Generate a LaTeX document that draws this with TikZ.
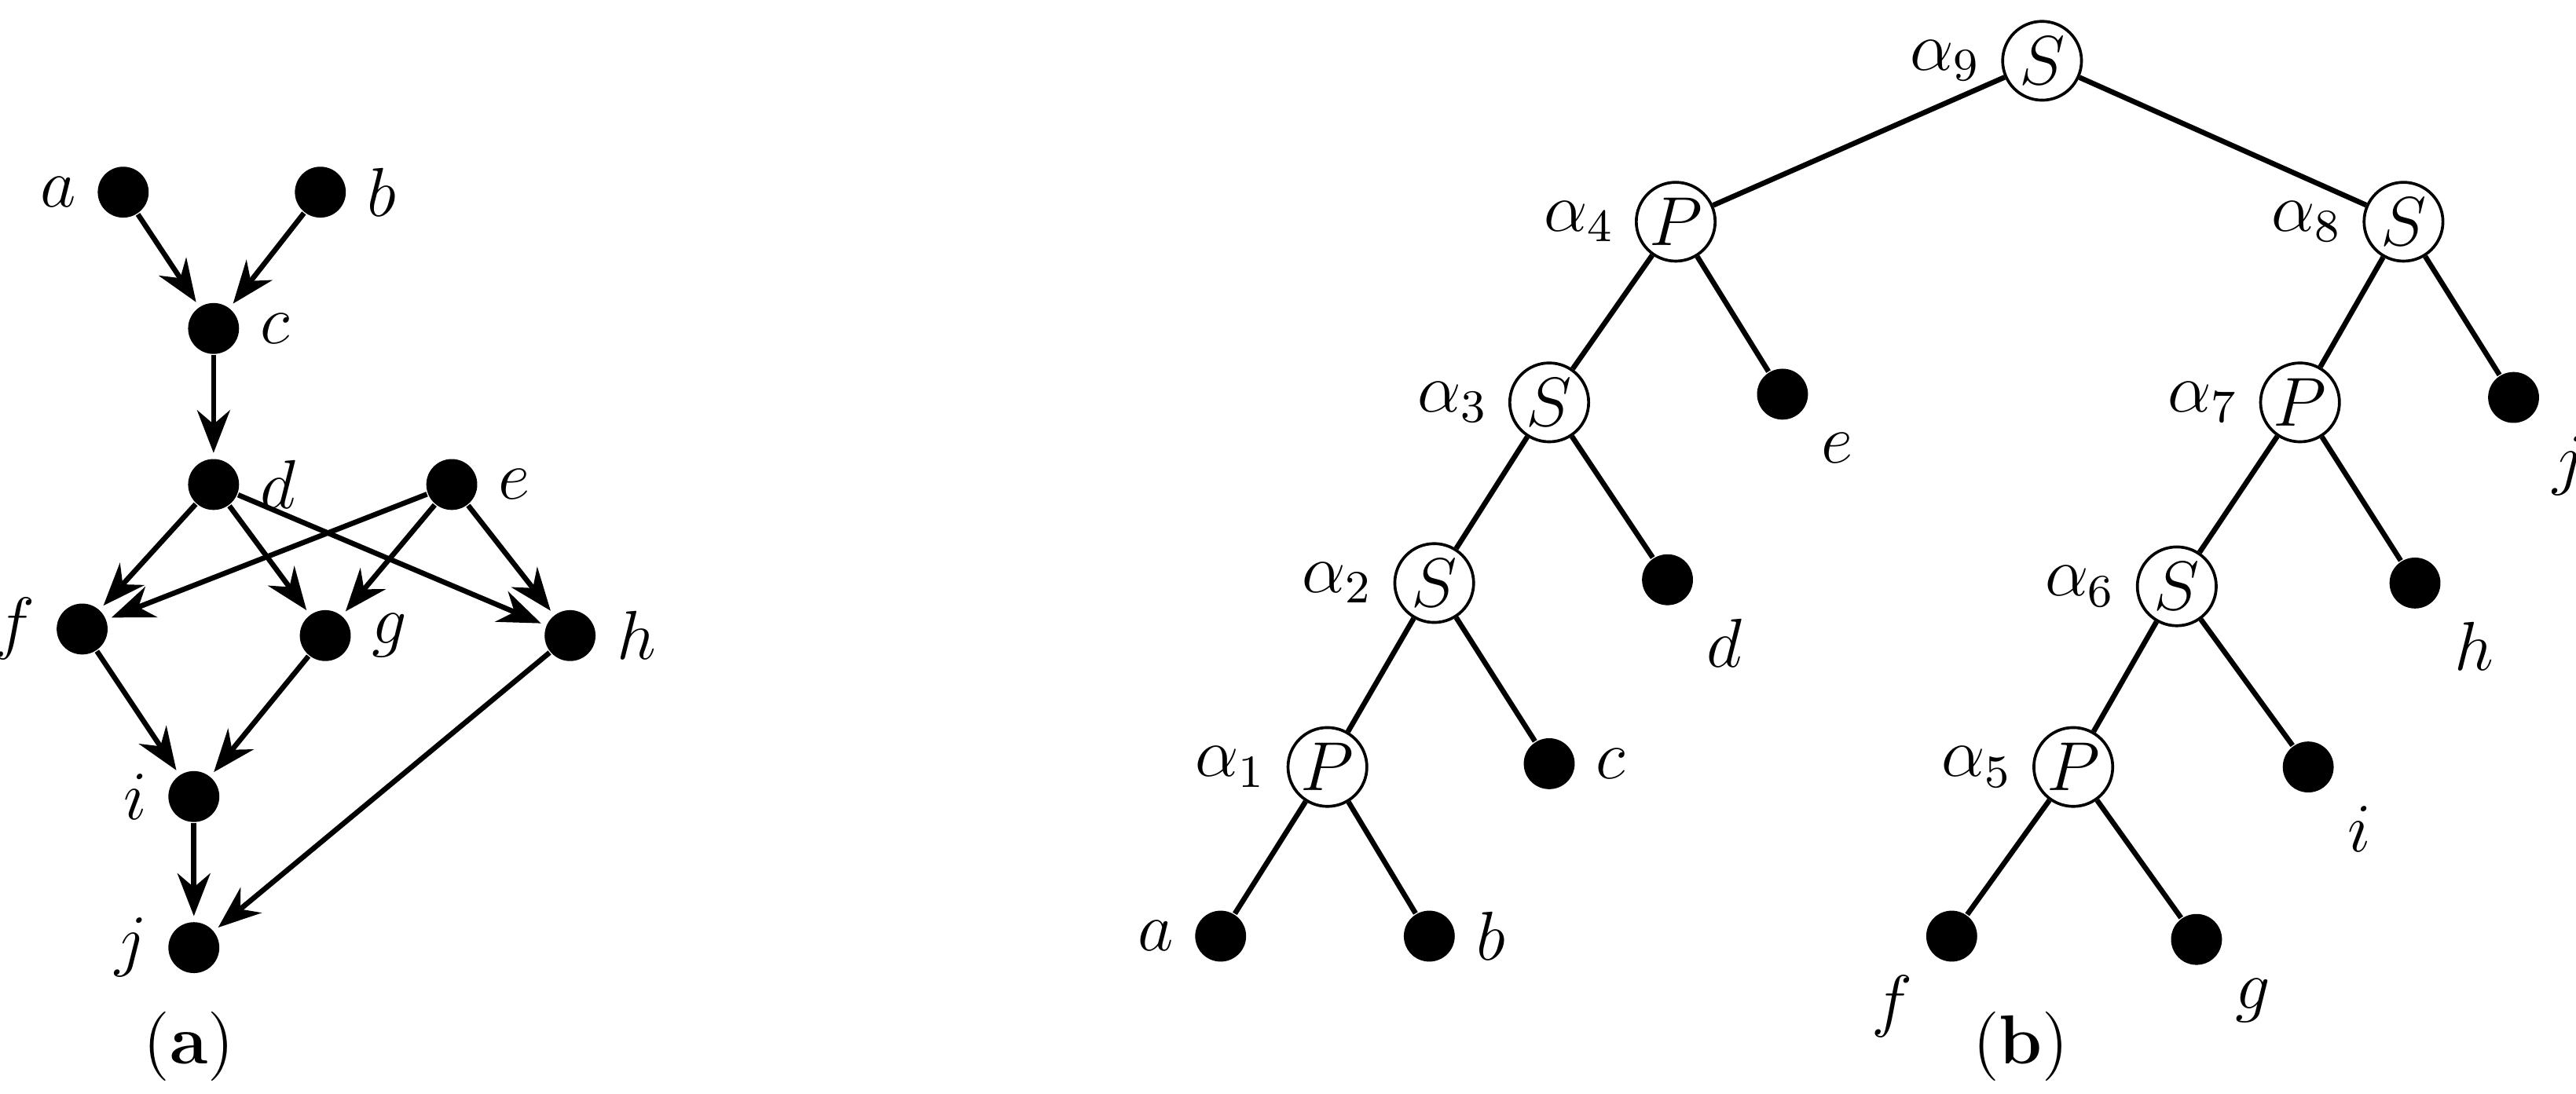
\documentclass[tikz,border=0pt]{standalone}
\usetikzlibrary{arrows.meta}
\begin{document}
\begin{tikzpicture}[x=0.1mm,y=-0.1mm,
  dot/.style={circle,fill=black,minimum size=3.1mm,inner sep=0pt},
  op/.style={circle,draw,line width=0.5pt,minimum size=4.8mm,inner sep=0pt,font=\large},
  arr/.style={-{Stealth[length=2.6mm,width=2mm]},line width=0.9pt,shorten >=0.3mm},
  ed/.style={line width=0.9pt},
  lab/.style={font=\large}]
\useasboundingbox (0,0) rectangle (1568,666);
% (a)
\node[dot,label={[lab]left:$a$}] (a) at (75,117) {};
\node[dot,label={[lab]right:$b$}] (b) at (195,117) {};
\node[dot,label={[lab]right:$c$}] (c) at (130,200) {};
\node[dot,label={[lab]right:$d$}] (d) at (130,295) {};
\node[dot,label={[lab]right:$e$}] (e) at (275,295) {};
\node[dot,label={[lab]left:$f$}] (f) at (50,383) {};
\node[dot,label={[lab]right:$g$}] (g) at (198,387) {};
\node[dot,label={[lab]right:$h$}] (h) at (347,387) {};
\node[dot,label={[lab]left:$i$}] (i) at (118,485) {};
\node[dot,label={[lab]left:$j$}] (j) at (118,577) {};
\foreach \s/\t in {a/c,b/c,c/d,d/f,d/g,d/h,e/f,e/g,e/h,f/i,g/i,i/j,h/j}
  \draw[arr] (\s) -- (\t);
\node[font=\large] (la) at (115,637) {(\textbf{a})};
% (b)
\node[op,label={[lab]left:$\alpha_9$}] (s9) at (1243,37) {$S$};
\node[op,label={[lab]left:$\alpha_4$}] (s4) at (1020,135) {$P$};
\node[op,label={[lab]left:$\alpha_8$}] (s8) at (1463,135) {$S$};
\node[op,label={[lab]left:$\alpha_3$}] (s3) at (943,245) {$S$};
\node[op,label={[lab]left:$\alpha_7$}] (s7) at (1400,245) {$P$};
\node[op,label={[lab]left:$\alpha_2$}] (s2) at (873,355) {$S$};
\node[op,label={[lab]left:$\alpha_6$}] (s6) at (1325,357) {$S$};
\node[op,label={[lab]left:$\alpha_1$}] (s1) at (808,467) {$P$};
\node[op,label={[lab]left:$\alpha_5$}] (s5) at (1262,467) {$P$};
\node[dot,label={[lab]below right:$e$}] (te) at (1085,240) {};
\node[dot,label={[lab]below right:$j$}] (tj) at (1530,242) {};
\node[dot,label={[lab]below right:$d$}] (td) at (1015,353) {};
\node[dot,label={[lab]below right:$h$}] (th) at (1470,355) {};
\node[dot,label={[lab]right:$c$}] (tc) at (943,465) {};
\node[dot,label={[lab]below right:$i$}] (ti) at (1405,467) {};
\node[dot,label={[lab]left:$a$}] (ta) at (743,570) {};
\node[dot,label={[lab]right:$b$}] (tb) at (870,570) {};
\node[dot,label={[lab]below left:$f$}] (tf) at (1188,570) {};
\node[dot,label={[lab]below right:$g$}] (tg) at (1337,572) {};
\foreach \s/\t in {s9/s4,s9/s8,s4/s3,s4/te,s8/s7,s8/tj,s3/s2,s3/td,s7/s6,s7/th,s2/s1,s2/tc,s6/s5,s6/ti,s1/ta,s1/tb,s5/tf,s5/tg}
  \draw[ed] (\s) -- (\t);
\node[font=\large] (lb) at (1230,637) {(\textbf{b})};
\end{tikzpicture}
\end{document}
